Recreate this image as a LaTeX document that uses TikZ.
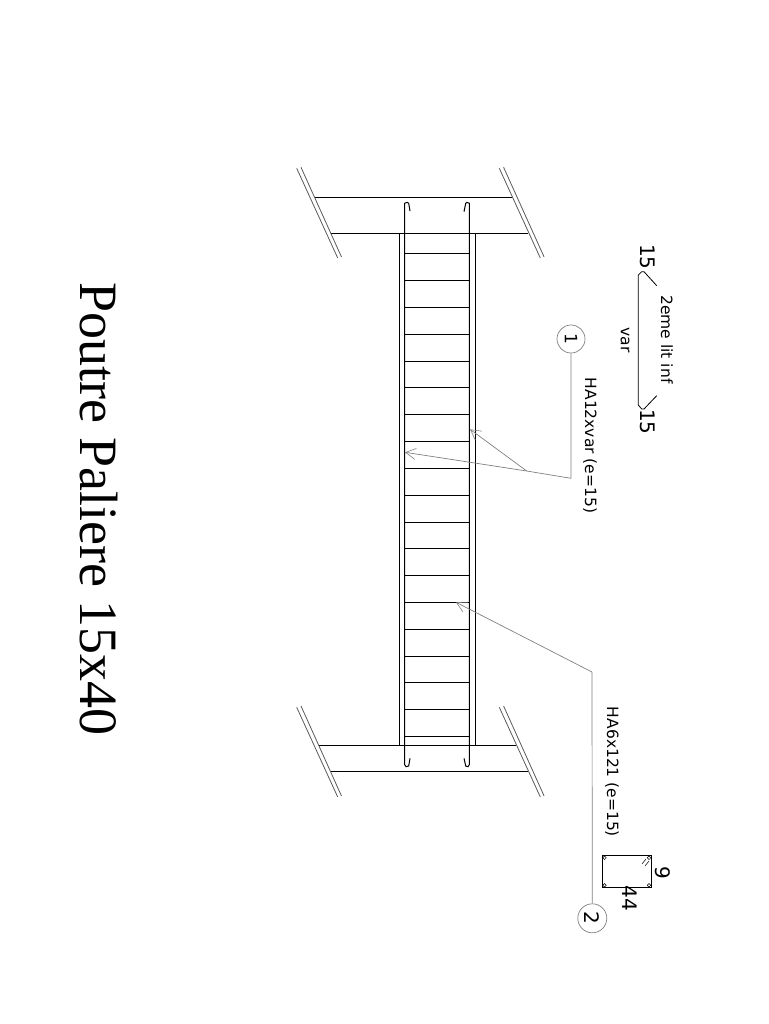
\documentclass[tikz,border=0pt]{standalone}
\usepackage{fontspec}
\setmainfont{Liberation Serif}
\newfontfamily\cadfont{DejaVu Sans}
\usetikzlibrary{calc}
\usetikzlibrary{arrows.meta}
\tikzset{
  bar/.style={black,line width=1pt},
  wall/.style={black!65,line width=.8pt},
  leader/.style={black!50,line width=.7pt},
  leaderarrow/.style={leader,-{Straight Barb[length=10pt,width=11pt,line width=.6pt]}},
  cadtext/.style={rotate=-90,font=\cadfont\fontsize{15.5}{15.5}\selectfont,inner sep=0pt},
  dimtext/.style={rotate=-90,font=\cadfont\fontsize{20}{20}\selectfont,inner sep=0pt},
  mark/.style={}
}
\begin{document}
\begin{tikzpicture} [x=1pt, y=-1pt]
\useasboundingbox (0,0) rectangle (768,1024);
\node[rotate=-90,font=\fontsize{54}{54}\selectfont,inner sep=0pt] (title) at (99,509) {Poutre Paliere 15x40};
% walls
\draw[bar] (315,197.3)--(511.7,197.3);
\draw[bar] (330.7,233.7)--(528,233.7);
\draw[bar] (319,745)--(516,745);
\draw[bar] (330.7,771.7)--(528,771.7);
\foreach \x in {0,202.6} {
 \draw[wall] (296.7+\x,168.3)--++(41,89.7);
 \draw[wall] (301+\x,167.3)--++(40.5,89.7);
 \draw[wall] (296.7+\x,707.3)--++(41,89.7);
 \draw[wall] (301+\x,706)--++(40.5,90);
}
% beam
\draw[bar] (399.7,233.7)--(399.7,745);
\draw[bar] (475.3,233.7)--(475.3,745);
\foreach \k in {0,...,18} {
 \draw[bar] (404.7,253.7+26.83*\k)--++(64.6,0);
}
% bars with hooks
\draw[bar] (410,211) -- (408.7,203.3) -- (407,202.3) -- (404.7,203.3) -- (404.7,764.7) -- (406,766.7) -- (408.7,766) -- (410,758.3);
\draw[bar] (464,211.7) -- (465.7,203.3) -- (467,202.3) -- (469.3,203.3) -- (469.3,764.7) -- (468,766.7) -- (465.7,766) -- (464,758.3);
% bar shape 1
\draw[bar,line width=.8pt] (656.7,285.7)--(644,271.7)--(641.7,271.7)--(638.3,275)--(638.3,405)--(641.7,409)--(644,409)--(656.7,395.7);
\node[dimtext] (lenA) at (647.7,257) {15};
\node[dimtext] (lenB) at (647.7,422) {15};
\node[cadtext] (lit) at (667,339.5) {2eme lit inf};
\node[cadtext] (var) at (625,340) {var};
% leaders
\node[draw=black!50,circle,minimum size=28pt,inner sep=0pt,line width=.7pt,font=\cadfont\fontsize{17}{17}\selectfont,rotate=-90] (one) at (571,339) {1};
\node[draw=black!50,circle,minimum size=29pt,inner sep=0pt,line width=.7pt,font=\cadfont\fontsize{20}{20}\selectfont,rotate=-90] (two) at (592.3,918.3) {2};
\coordinate (elbowA) at (571,478.3);
\coordinate (forkA) at (526.7,471);
\coordinate (tipA) at (405,452.3);
\coordinate (tipB) at (470,429.3);
\coordinate (elbowC) at (592,672);
\coordinate (tipC) at (456,602.3);
\draw[leader] (one)--(elbowA)--(forkA);
\draw[leaderarrow] (forkA)--(tipA);
\draw[leaderarrow] (forkA)--(tipB);
\draw[leader] (two)--(elbowC);
\draw[leaderarrow] (elbowC)--(tipC);
\node[cadtext] (labelA) at (590,445.5) {HA12xvar (e=15)};
\node[cadtext] (labelB) at (612,772) {HA6x121 (e=15)};
% stirrup
\draw[bar] (602.3,855.7) rectangle (651.3,887.3);
\foreach \x/\y in {604.5/857.8,604.5/885.2,649/857.8,649/885.2} {
 \draw[black,line width=.5pt] (\x,\y) circle (1.8);
}
\draw[black,line width=.5pt] (642,864)--(646,859);
\draw[black,line width=.5pt] (645,866)--(649,861);
\node[dimtext] (nine) at (663,873) {9};
\node[dimtext] (stirrup) at (630,898) {44};
\end{tikzpicture}
\end{document}
